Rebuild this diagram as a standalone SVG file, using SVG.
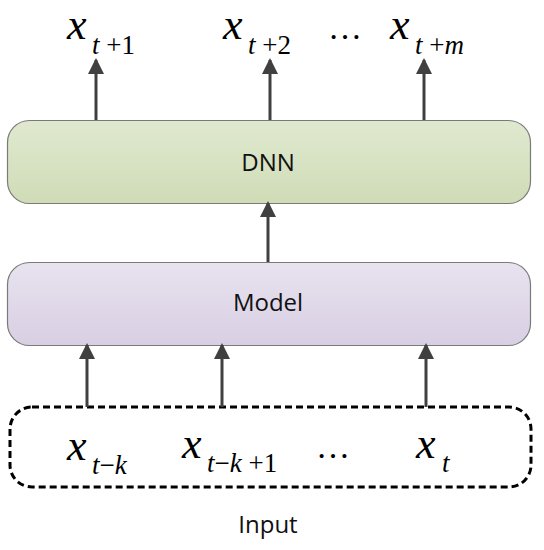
<svg xmlns="http://www.w3.org/2000/svg" width="544" height="550" viewBox="0 0 544 550">
<defs>
<linearGradient id="gDnn" x1="0" y1="0" x2="0" y2="1"><stop offset="0" stop-color="#e0e9d0"/><stop offset="1" stop-color="#cfdcb6"/></linearGradient>
<linearGradient id="gMod" x1="0" y1="0" x2="0" y2="1"><stop offset="0" stop-color="#e8e3ef"/><stop offset="1" stop-color="#d8cfe3"/></linearGradient>
<marker id="ah" markerUnits="userSpaceOnUse" markerWidth="16" markerHeight="18" viewBox="0 0 16 18" refX="14" refY="8" orient="auto"><path d="M0,0 L16,8 L0,16 Z" fill="#404040"/></marker>
<style>
.box{stroke:#7a7a7a;stroke-width:1.2}
.lbl{font-family:"Open Sans","Noto Sans",sans-serif;font-size:24px;fill:#111;text-anchor:middle}
.mx{font-family:"Liberation Serif",serif;font-style:italic;font-size:44px;fill:#000}
.ms{font-family:"Liberation Serif",serif;font-size:27px;fill:#000}
.it{font-style:italic}
.dots{font-family:"Liberation Serif",serif;font-size:34px;fill:#000}
.arr{stroke:#404040;stroke-width:3;fill:none;marker-end:url(#ah)}
</style>
</defs>
<g id="dnn">
<rect class="box" x="7.5" y="120.5" width="523" height="83" rx="22" fill="url(#gDnn)"/>
<text class="lbl" x="268" y="171">DNN</text>
</g>
<g id="model">
<rect class="box" x="7.5" y="262.5" width="523" height="83" rx="22" fill="url(#gMod)"/>
<text class="lbl" x="268" y="311">Model</text>
</g>
<g id="input">
<rect x="10" y="407" width="521" height="80" rx="22" fill="none" stroke="#000" stroke-width="3" stroke-dasharray="7,4"/>
<text class="lbl" x="268" y="533">Input</text>
</g>
<g id="outputs">
<text class="mx" x="67" y="39">x</text><text class="ms" x="92" y="54"><tspan class="it">t</tspan> +1</text>
<text class="mx" x="223" y="39">x</text><text class="ms" x="248" y="54"><tspan class="it">t</tspan> +2</text>
<text class="dots" x="328" y="39">…</text>
<text class="mx" x="390" y="39">x</text><text class="ms" x="415" y="54"><tspan class="it">t</tspan> +<tspan class="it">m</tspan></text>
</g>
<g id="inputs">
<text class="mx" x="67" y="460">x</text><text class="ms" x="92" y="474"><tspan class="it">t</tspan>−<tspan class="it">k</tspan></text>
<text class="mx" x="182" y="458">x</text><text class="ms" x="207" y="472"><tspan class="it">t</tspan>−<tspan class="it">k</tspan> +1</text>
<text class="dots" x="316" y="458">…</text>
<text class="mx" x="416" y="458">x</text><text class="ms it" x="442" y="472">t</text>
</g>
<g id="connectors">
<line class="arr" x1="96" y1="120" x2="96" y2="60"/>
<line class="arr" x1="270" y1="120" x2="270" y2="60"/>
<line class="arr" x1="424" y1="120" x2="424" y2="60"/>
<line class="arr" x1="268" y1="262" x2="268" y2="203"/>
<line class="arr" x1="87" y1="407" x2="87" y2="345"/>
<line class="arr" x1="222" y1="407" x2="222" y2="345"/>
<line class="arr" x1="426" y1="407" x2="426" y2="345"/>
</g>
</svg>
